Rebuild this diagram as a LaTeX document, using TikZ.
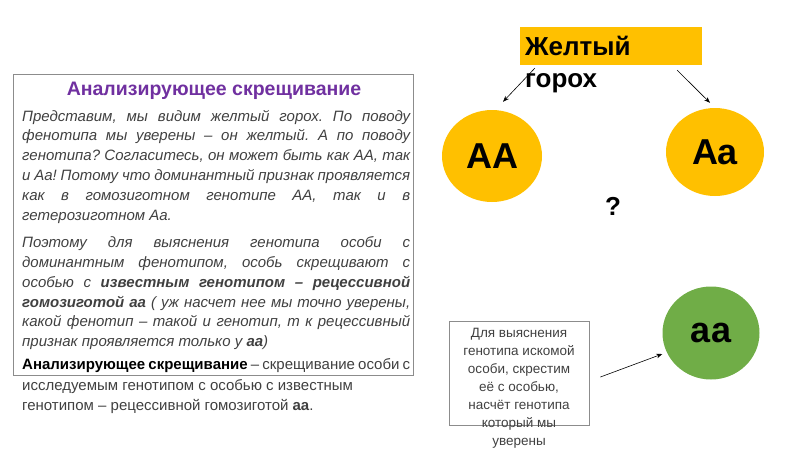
\documentclass[tikz,border=0pt]{standalone}
\usepackage{fontspec}
\setmainfont{Liberation Sans}
\usetikzlibrary{shapes.geometric,arrows.meta,calc}
\definecolor{peaYellow}{HTML}{FFC000}
\definecolor{peaGreen}{HTML}{70AD47}
\definecolor{titlePurple}{HTML}{7030A0}
\definecolor{bodyGray}{HTML}{404040}
\definecolor{frameGray}{HTML}{8C8C8C}
\newcommand{\jline}[1]{\makebox[388pt][s]{#1}}
\frenchspacing
\tikzset{
  pea/.style={ellipse, fill=peaYellow, inner sep=0pt,
    minimum width=100pt, minimum height=92pt,
    font=\fontsize{36}{40}\selectfont\bfseries},
  para/.style={anchor=north west, inner sep=0pt, align=left, text=bodyGray,
    font=\fontsize{15}{19.8}\selectfont\itshape},
  arr/.style={-{Stealth[length=6pt,width=4.5pt]}, line width=0.6pt}
}
\begin{document}
\begin{tikzpicture}[x=1pt,y=-1pt]
  \useasboundingbox (0,0) rectangle (800,450);
  % left text block
  \draw[frameGray, line width=0.8pt] (13,74) rectangle (413,375);
  \node (title) [anchor=base, text=titlePurple,
    font=\fontsize{19.5}{22}\selectfont\bfseries] at (214,95)
    {Анализирующее скрещивание};
  \node (parA) [para] at (22,107.1) {%
    \strut\jline{Представим, мы видим желтый горох. По поводу}\\
    \jline{фенотипа мы уверены – он желтый. А по поводу}\\
    \jline{генотипа? Согласитесь, он может быть как АА, так}\\
    \jline{и Аа! Потому что доминантный признак проявляется}\\
    \jline{как в гомозиготном генотипе АА, так и в}\\
    гетерозиготном Аа.};
  \node (parB) [para] at (22,233.6) {%
    \strut\jline{Поэтому для выяснения генотипа особи с}\\
    \jline{доминантным фенотипом, особь скрещивают с}\\
    \jline{особью с \textbf{известным генотипом – рецессивной}}\\
    \jline{\textbf{гомозиготой аа} ( уж насчет нее мы точно уверены,}\\
    \jline{какой фенотип – такой и генотип, т к рецессивный}\\
    признак проявляется только у \textbf{аа})};
  \node (parC) [para, font=\fontsize{15}{20.3}\selectfont\upshape]
    at (22,355.4) {%
    \strut\jline{\textbf{\color{black}Анализирующее скрещивание} – скрещивание особи с}\\
    исследуемым генотипом с особью с известным\\
    генотипом – рецессивной гомозиготой \textbf{аа}.};
  % right side
  \node (pea) [fill=peaYellow, minimum width=182pt, minimum height=38pt,
    inner sep=0pt] at (611,46) {};
  \node (peaText) [anchor=north west, inner sep=0pt, align=left,
    font=\fontsize{26}{32}\selectfont\bfseries] at (525,32.6)
    {\strut Желтый\\горох};
  \node (AA) [pea] at (492,156) {AA};
  \node (Aa) [pea, minimum width=98pt, minimum height=88pt] at (715,152) {Aa};
  \node (aa) [pea, fill=peaGreen, minimum width=97pt, minimum height=93pt]
    at (711,333) {\raisebox{-3pt}{aa}};
  \node (q) [font=\fontsize{26}{28}\selectfont\bfseries] at (613,206) {?};
  \node (note) [draw=frameGray, line width=0.8pt, minimum width=140pt,
    minimum height=104pt, inner sep=0pt] at (519,373) {};
  \node (noteText) [anchor=north, inner sep=0pt, align=center, text=bodyGray,
    font=\fontsize{13.5}{18}\selectfont] at (519,324.4)
    {\strut Для выяснения\\генотипа искомой\\особи, скрестим\\её с особью,\\насчёт генотипа\\который мы\\уверены};
  \draw[arr] ($(pea.south west)+(15,3)$) -- ($(AA.north)+(11,-8)$);
  \draw[arr] ($(pea.south east)+(-25,5)$) -- ($(Aa.north)+(-5,-5)$);
  \draw[arr] ($(note.east)+(11,4)$) -- ($(aa.west)+(0,21)$);
\end{tikzpicture}
\end{document}
